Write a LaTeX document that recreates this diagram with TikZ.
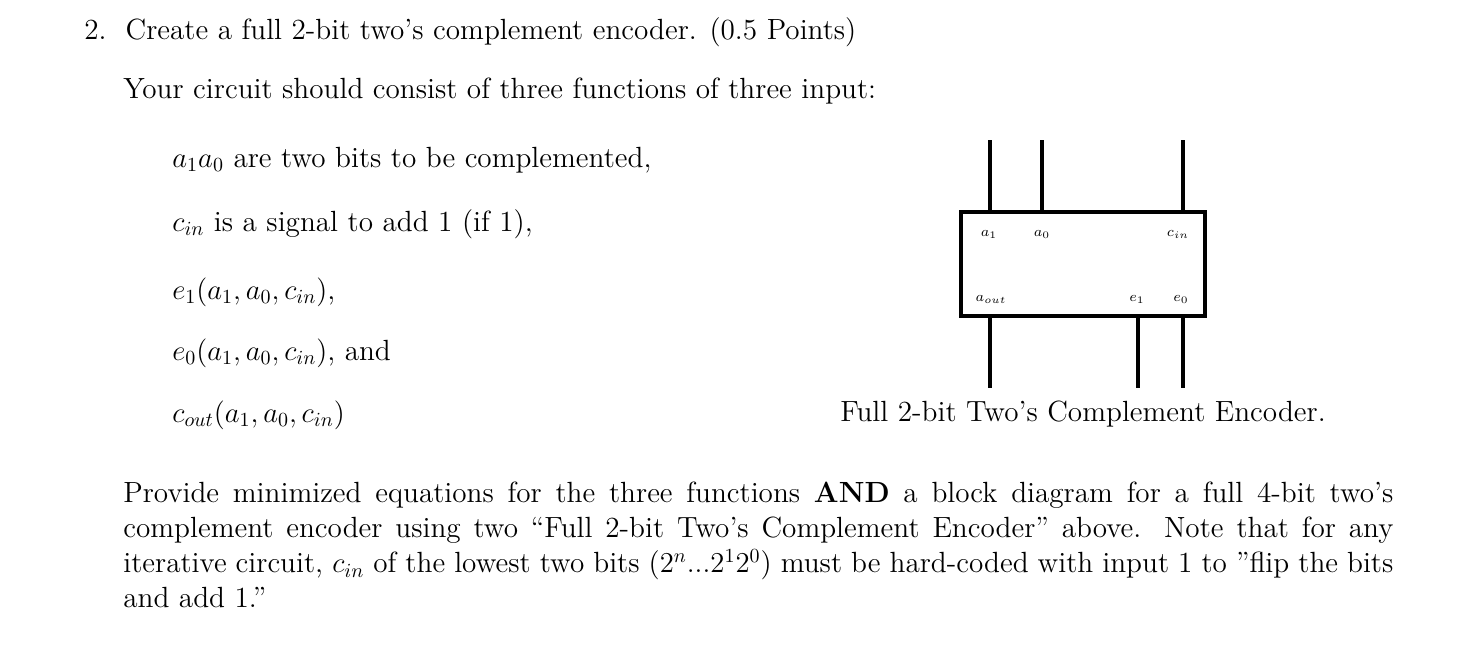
\documentclass[tikz,border=0pt]{standalone}
\begin{document}
\begin{tikzpicture}[x=0.5pt,y=-0.5pt,
  txt/.style={anchor=west,inner sep=0pt,font=\fontsize{14.6}{17.5}\selectfont},
  wire/.style={line width=2pt},
  lbl/.style={inner sep=0pt,font=\fontsize{7.5}{9}\selectfont}]
\useasboundingbox (0,0) rectangle (1475,655);
\node[txt] (t1) at (84,32) {2.\ \ Create a full 2-bit two's complement encoder. (0.5 Points)};
\node[txt] (t2) at (123,91) {Your circuit should consist of three functions of three input:};
\node[txt] (i1) at (172,160) {$a_1a_0$ are two bits to be complemented,};
\node[txt] (i2) at (172,224) {$c_{in}$ is a signal to add 1 (if 1),};
\node[txt] (i3) at (172,292) {$e_1(a_1,a_0,c_{in})$,};
\node[txt] (i4) at (172,353) {$e_0(a_1,a_0,c_{in})$, and};
\node[txt] (i5) at (172,415) {$c_{out}(a_1,a_0,c_{in})$};
\draw[wire] (961,212) rectangle (1205,316);
\foreach \x/\n in {990/a,1042/b,1183/c}{
  \coordinate (t\n) at (\x,140); \coordinate (tb\n) at (\x,212);
  \draw[wire] (t\n) -- (tb\n);}
\foreach \x/\n in {990/a,1138/b,1183/c}{
  \coordinate (b\n) at (\x,388); \coordinate (bb\n) at (\x,316);
  \draw[wire] (bb\n) -- (b\n);}
\node[lbl] (la1) at (989,234) {$a_1$};
\node[lbl] (la0) at (1042,234) {$a_0$};
\node[lbl] (lci) at (1178,234) {$c_{in}$};
\node[lbl] (lao) at (991,299) {$a_{out}$};
\node[lbl] (le1) at (1137,299) {$e_1$};
\node[lbl] (le0) at (1181,299) {$e_0$};
\node[txt,anchor=center] (cap) at (1083,414) {Full 2-bit Two's Complement Encoder.};
\node[txt,anchor=north west,text width=635pt,align=justify] (p) at (123,482)
{Provide minimized equations for the three functions \textbf{AND} a block diagram for a full 4-bit two's complement encoder using two ``Full 2-bit Two's Complement Encoder'' above. Note that for any iterative circuit, $c_{in}$ of the lowest two bits ($2^n...2^12^0$) must be hard-coded with input 1 to "flip the bits and add 1.''};
\end{tikzpicture}
\end{document}
